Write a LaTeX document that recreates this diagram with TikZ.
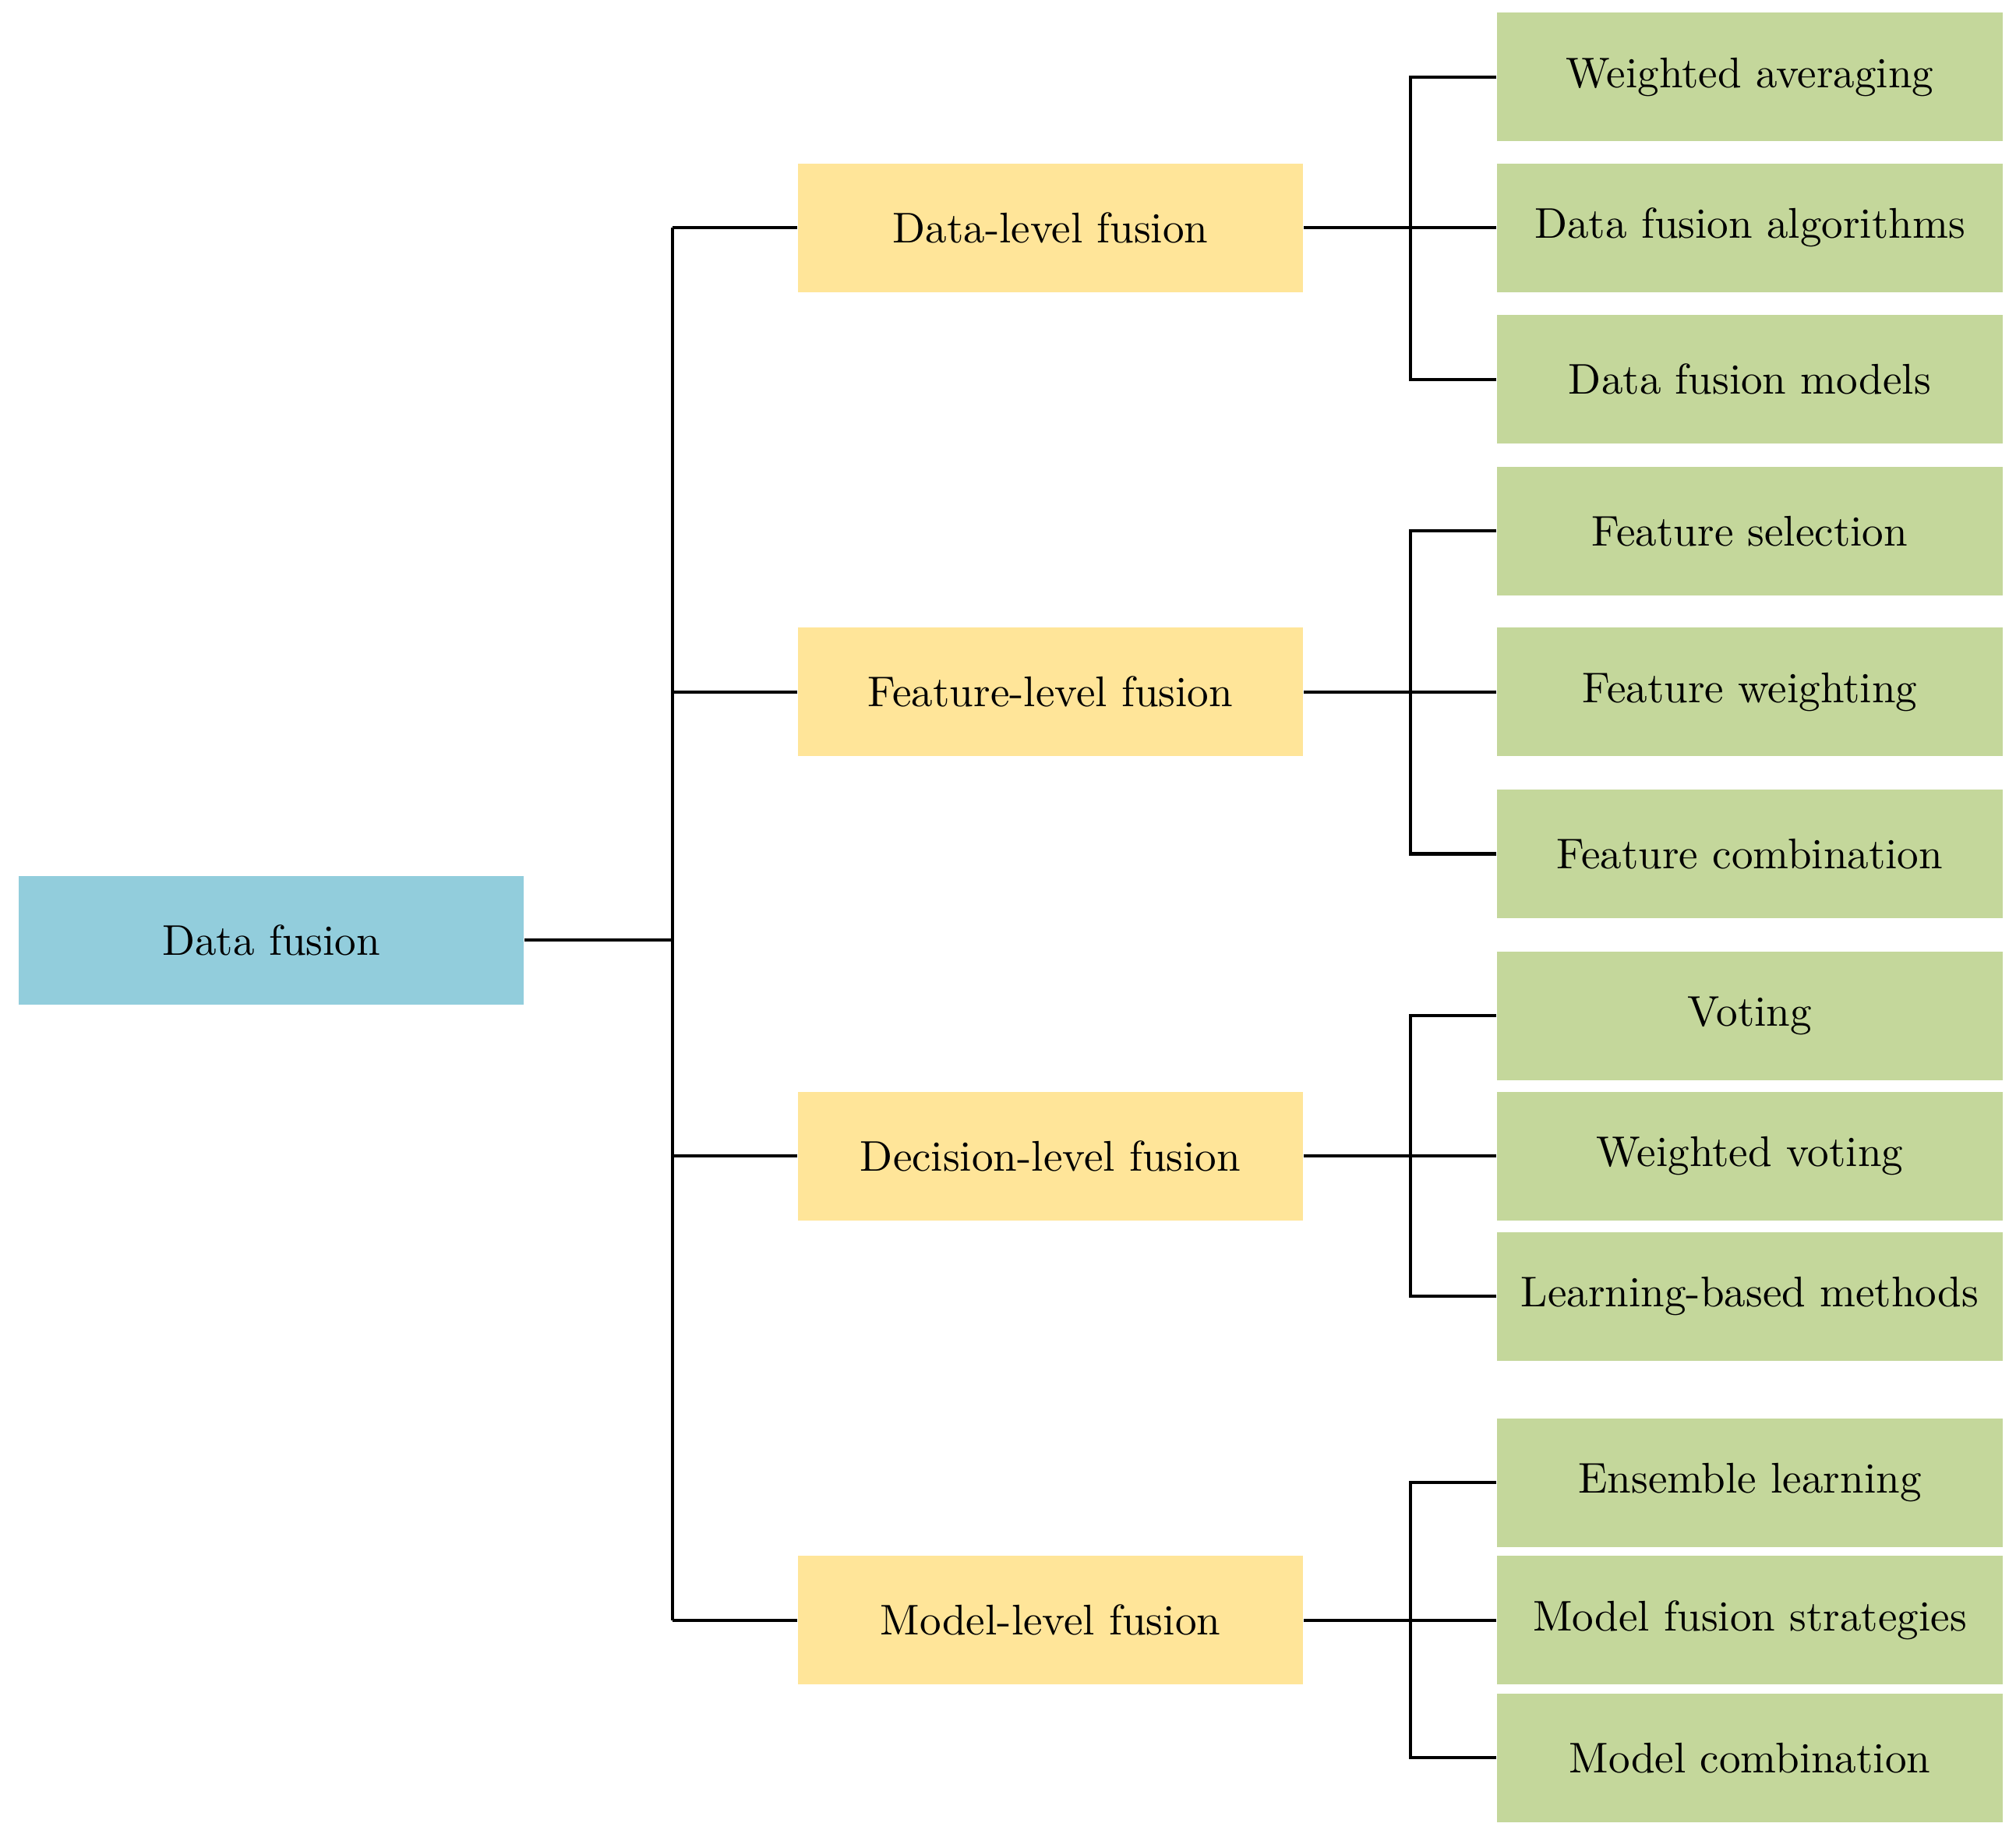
\documentclass[tikz,border=0pt]{standalone}
\begin{document}
\begin{tikzpicture}[x=0.1mm,y=-0.1mm,
  box/.style={minimum width=39.3mm,minimum height=10mm,inner sep=0,font=\fontsize{9.5}{11}\selectfont},
  root/.style={box,fill=rootc},
  mid/.style={box,fill=midc},
  leaf/.style={box,fill=leafc},
  ln/.style={line width=0.7pt}]
\definecolor{rootc}{HTML}{92CDDC}
\definecolor{midc}{HTML}{FFE599}
\definecolor{leafc}{HTML}{C4D79B}
\useasboundingbox (0,0) rectangle (1568,1437);
\node[root] (r) at (211,731) {Data fusion};
\coordinate (t1) at (523,177); \coordinate (t4) at (523,1260);
\draw[ln] (t1) -- (t4);
\draw[ln] (r.east) -- (523,731);
\foreach \n/\y/\t in {m1/177/Data-level fusion,m2/538/Feature-level fusion,m3/899/Decision-level fusion,m4/1260/Model-level fusion}{
  \node[mid] (\n) at (817,\y) {\t};
  \draw[ln] (523,\y) -- (\n.west);
}
\foreach \m/\a/\b/\c/\ta/\tb/\tc in {
 m1/60/177/295/Weighted averaging/Data fusion algorithms/Data fusion models,
 m2/413/538/664/Feature selection/Feature weighting/Feature combination,
 m3/790/899/1008/Voting/Weighted voting/Learning-based methods,
 m4/1153/1260/1367/Ensemble learning/Model fusion strategies/Model combination}{
  \node[leaf] (\m a) at (1361,\a) {\ta};
  \node[leaf] (\m b) at (1361,\b) {\tb};
  \node[leaf] (\m c) at (1361,\c) {\tc};
  \draw[ln] (\m a.west) -- (1097,\a) -- (1097,\c) -- (\m c.west);
  \draw[ln] (\m.east) -- (\m b.west);
}
\end{tikzpicture}
\end{document}
